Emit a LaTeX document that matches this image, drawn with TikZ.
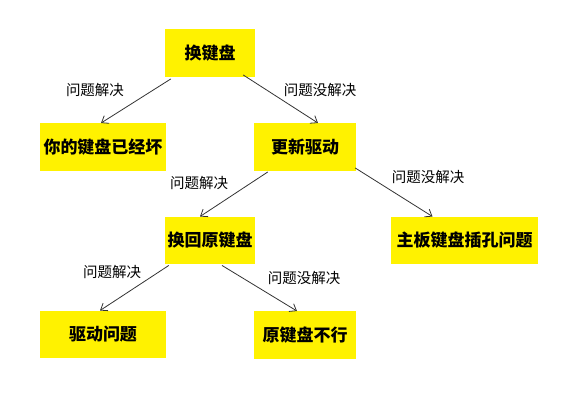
\documentclass[tikz,border=0pt]{standalone}
\usepackage{fontspec}
\newfontfamily\cjk{Noto Sans CJK SC}
\usepackage{tikz}
\usetikzlibrary{arrows.meta}
\usetikzlibrary{positioning}
\tikzset{
	box/.style={fill=yellow, minimum height=47.5pt, inner sep=0pt, font=\cjk\bfseries\fontsize{17}{17}\selectfont},
	lab/.style={font=\cjk\fontsize{14.5}{14.5}\selectfont},
	arr/.style={draw=black!80, line width=0.8pt, -{Straight Barb[length=6pt,width=9pt]}}
}

\begin{document}
\begin{tikzpicture}[x=1pt,y=-1pt]
	\useasboundingbox (0,0) rectangle (582,417);
	\node[box, minimum width=90pt] (root) at (210,53){换键盘};
	\node[box, minimum width=126pt] (bad) at (103,147){你的键盘已经坏};
	\node[box, minimum width=102pt] (drv) at (305,147){更新驱动};
	\node[box, minimum width=90pt] (back) at (210,240.5){换回原键盘};
	\node[box, minimum width=147pt] (board) at (464.5,240.5){主板键盘插孔问题};
	\node[box, minimum width=126pt] (drvprob) at (103,334.5){驱动问题};
	\node[box, minimum width=102pt] (old) at (305,335){原键盘不行};
	\node[lab] (l1) at (95,90){问题解决};
	\node[lab] (l2) at (320,90){问题没解决};
	\node[lab] (l3) at (199,183){问题解决};
	\node[lab] (l4) at (428,177){问题没解决};
	\node[lab] (l5) at (112,272){问题解决};
	\node[lab] (l6) at (304,278){问题没解决};
	\draw[arr] ([xshift=6pt,yshift=-2pt]root.south west) -- ([xshift=-2pt]bad.north);
	\draw[arr] ([xshift=-12pt,yshift=2pt]root.south east) -- ([xshift=13pt]drv.north);
	\draw[arr] ([xshift=14pt,yshift=-1pt]drv.south west) -- ([xshift=-10pt]back.north);
	\draw[arr] ([xshift=-1pt,yshift=3pt]drv.south east) -- ([xshift=-32pt]board.north);
	\draw[arr] ([xshift=4pt,yshift=-1pt]back.south west) -- ([xshift=-3pt]drvprob.north);
	\draw[arr] ([xshift=12pt,yshift=-1pt]back.south) -- ([xshift=-8pt]old.north);
\end{tikzpicture}
\end{document}
